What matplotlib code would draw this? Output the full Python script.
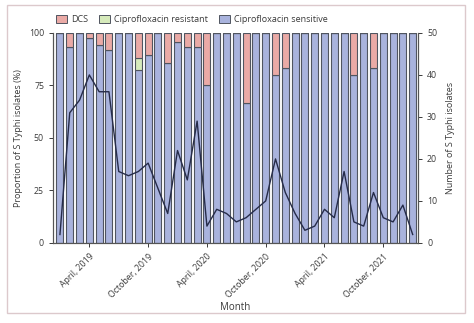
import matplotlib

matplotlib.use("Agg")
import matplotlib.pyplot as plt
from matplotlib.patches import Patch, Rectangle
import numpy as np

plt.rcParams["font.family"] = ["Open Sans", "DejaVu Sans"]

# monthly data, Jan 2019 .. Jan 2022
months = [
    "Jan 2019", "Feb 2019", "Mar 2019", "Apr 2019", "May 2019", "Jun 2019",
    "Jul 2019", "Aug 2019", "Sep 2019", "Oct 2019", "Nov 2019", "Dec 2019",
    "Jan 2020", "Feb 2020", "Mar 2020", "Apr 2020", "May 2020", "Jun 2020",
    "Jul 2020", "Aug 2020", "Sep 2020", "Oct 2020", "Nov 2020", "Dec 2020",
    "Jan 2021", "Feb 2021", "Mar 2021", "Apr 2021", "May 2021", "Jun 2021",
    "Jul 2021", "Aug 2021", "Sep 2021", "Oct 2021", "Nov 2021", "Dec 2021",
    "Jan 2022",
]
dcs_pct = [0, 6.5, 0, 2.5, 5.6, 8.3, 0, 0, 11.8, 10.5, 0, 14.3,
           4.5, 6.7, 6.9, 25, 0, 0, 0, 33.3, 0, 0, 20, 16.7,
           0, 0, 0, 0, 0, 0, 20, 0, 16.7, 0, 0, 0, 0]
resistant_pct = [0, 0, 0, 0, 0, 0, 0, 0, 5.9, 0, 0, 0,
                 0, 0, 0, 0, 0, 0, 0, 0, 0, 0, 0, 0,
                 0, 0, 0, 0, 0, 0, 0, 0, 0, 0, 0, 0, 0]
n_isolates = [2, 31, 34, 40, 36, 36, 17, 16, 17, 19, 13, 7,
              22, 15, 29, 4, 8, 7, 5, 6, 8, 10, 20, 12,
              7, 3, 4, 8, 6, 17, 5, 4, 12, 6, 5, 9, 2]
tick_months = ["Apr 2019", "Oct 2019", "Apr 2020", "Oct 2020", "Apr 2021", "Oct 2021"]
tick_labels = ["April, 2019", "October, 2019", "April, 2020",
               "October, 2020", "April, 2021", "October, 2021"]

C_SENS = "#a9b3dd"
C_DCS = "#eaaaa6"
C_RES = "#d6eabb"
EDGE = "#505560"
LINE = "#262c4a"
TXT = "#3a3a3a"

x = np.arange(len(months))
sens_pct = [100 - d - r for d, r in zip(dcs_pct, resistant_pct)]

fig = plt.figure(figsize=(4.74, 3.23), dpi=100)
fig.patches.append(Rectangle((0.015, 0.03), 0.967, 0.955, transform=fig.transFigure,
                             fill=False, edgecolor="#dcc9cc", linewidth=1.0))
ax = fig.add_axes([0.112, 0.248, 0.770, 0.650])

w = 0.72
ax.bar(x, sens_pct, width=w, color=C_SENS, edgecolor=EDGE, linewidth=0.8)
ax.bar(x, resistant_pct, width=w, bottom=sens_pct, color=C_RES, edgecolor=EDGE, linewidth=0.8)
ax.bar(x, dcs_pct, width=w, bottom=[s + r for s, r in zip(sens_pct, resistant_pct)],
       color=C_DCS, edgecolor=EDGE, linewidth=0.8)
ax.set_xlim(-0.7, len(months) - 0.45)
ax.set_ylim(0, 100)
ax.set_yticks([0, 25, 50, 75, 100])
ax.set_ylabel("Proportion of S Typhi isolates (%)", fontsize=6.5, color=TXT)
ax.set_xticks([months.index(m) for m in tick_months], tick_labels,
              rotation=45, ha="right", rotation_mode="anchor")
ax.set_xlabel("Month", fontsize=7, color=TXT, labelpad=2)
ax.spines["top"].set_visible(False)

ax2 = ax.twinx()
ax2.plot(x, n_isolates, color=LINE, linewidth=1.0)
ax2.set_ylim(0, 50)
ax2.set_yticks([0, 10, 20, 30, 40, 50])
ax2.set_ylabel("Number of S Typhi isolates", fontsize=6.5, color=TXT, labelpad=6)
ax2.spines["top"].set_visible(False)

for a in (ax, ax2):
    a.tick_params(labelsize=6.3, colors=TXT, length=3, width=0.7)
    for s in a.spines.values():
        s.set_color("#555555")
        s.set_linewidth(0.8)

handles = [Patch(facecolor=C_DCS, edgecolor=EDGE, linewidth=0.7, label="DCS"),
           Patch(facecolor=C_RES, edgecolor=EDGE, linewidth=0.7, label="Ciprofloxacin resistant"),
           Patch(facecolor=C_SENS, edgecolor=EDGE, linewidth=0.7, label="Ciprofloxacin sensitive")]
fig.legend(handles=handles, loc="upper left", bbox_to_anchor=(0.1, 0.978), ncol=3,
           frameon=False, fontsize=6.5, handlelength=1.3, handleheight=0.9,
           handletextpad=0.4, columnspacing=1.2, labelcolor=TXT)

fig.savefig("out.png", dpi=100)
